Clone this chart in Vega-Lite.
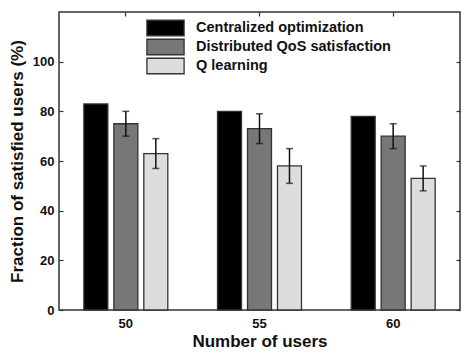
{
  "$schema": "https://vega.github.io/schema/vega-lite/v6.json",
  "width": 401,
  "height": 298,
  "autosize": {"type": "none"},
  "padding": {"left": 59, "top": 12, "right": 14, "bottom": 45},
  "background": "white",
  "config": {
    "view": {"stroke": "#333333", "strokeWidth": 1.5},
    "font": "Liberation Sans",
    "axis": {
      "labelFont": "Liberation Sans", "labelFontWeight": "bold", "labelFontSize": 13, "labelColor": "#111111",
      "titleFont": "Liberation Sans", "titleFontWeight": "bold", "titleFontSize": 17, "titleColor": "#111111",
      "domain": false, "grid": false, "tickColor": "#333333", "tickWidth": 1.2
    },
    "legend": {
      "labelFont": "Liberation Sans", "labelFontWeight": "bold", "labelFontSize": 14.5, "labelColor": "#111111", "labelLimit": 400
    }
  },
  "data": {
    "values": [
      {"users": "50", "method": "Centralized optimization", "value": 83, "lo": null, "hi": null},
      {"users": "50", "method": "Distributed QoS satisfaction", "value": 75, "lo": 70, "hi": 80},
      {"users": "50", "method": "Q learning", "value": 63, "lo": 57, "hi": 69},
      {"users": "55", "method": "Centralized optimization", "value": 80, "lo": null, "hi": null},
      {"users": "55", "method": "Distributed QoS satisfaction", "value": 73, "lo": 67, "hi": 79},
      {"users": "55", "method": "Q learning", "value": 58, "lo": 51, "hi": 65},
      {"users": "60", "method": "Centralized optimization", "value": 78, "lo": null, "hi": null},
      {"users": "60", "method": "Distributed QoS satisfaction", "value": 70, "lo": 65, "hi": 75},
      {"users": "60", "method": "Q learning", "value": 53, "lo": 48, "hi": 58}
    ]
  },
  "encoding": {
    "xOffset": {"field": "method", "type": "nominal", "scale": {"paddingInner": 0.2, "paddingOuter": 0.1}}
  },
  "layer": [
    {
      "mark": {"type": "bar", "stroke": "#333333", "strokeWidth": 1.3},
      "encoding": {
        "x": {"field": "users", "type": "nominal", "scale": {"paddingInner": 0.327, "paddingOuter": 0.1635},
              "axis": {"title": "Number of users", "labelAngle": 0, "ticks": false, "labelPadding": 7, "titlePadding": 3}},
        "y": {"field": "value", "type": "quantitative", "scale": {"domain": [0, 120], "nice": false},
              "axis": {"title": "Fraction of satisfied users (%)", "values": [0, 20, 40, 60, 80, 100], "tickSize": -4, "labelPadding": 9, "titlePadding": 6}},
        "color": {"field": "method", "type": "nominal",
                  "scale": {"range": ["#000000", "#777777", "#dddddd"]},
                  "legend": {"title": null, "orient": "none", "legendX": 98, "legendY": 7.5, "padding": 0,
                             "symbolType": "M-2.4,-1H2.4V1H-2.4Z", "symbolSize": 240, "symbolStrokeColor": "#333333", "symbolStrokeWidth": 1.3,
                             "rowPadding": -2, "labelOffset": 22}}
      }
    },
    {
      "transform": [{"filter": "datum.lo != null"}],
      "mark": {"type": "rule", "color": "#111111", "strokeWidth": 1.5},
      "encoding": {
        "x": {"field": "users", "type": "nominal", "axis": {"orient": "top", "title": null, "labels": false, "ticks": true, "tickSize": -4, "zindex": 1}},
        "y": {"field": "lo", "type": "quantitative", "axis": {"orient": "right", "title": null, "labels": false, "ticks": true, "values": [0, 20, 40, 60, 80, 100], "tickSize": -4, "zindex": 1}},
        "y2": {"field": "hi"}}
    },
    {
      "transform": [{"filter": "datum.lo != null"}],
      "mark": {"type": "tick", "color": "#111111", "thickness": 1.5, "size": 7},
      "encoding": {
        "x": {"field": "users", "type": "nominal", "axis": null},
        "y": {"field": "lo", "type": "quantitative", "axis": null}}
    },
    {
      "transform": [{"filter": "datum.lo != null"}],
      "mark": {"type": "tick", "color": "#111111", "thickness": 1.5, "size": 7},
      "encoding": {
        "x": {"field": "users", "type": "nominal", "axis": null},
        "y": {"field": "hi", "type": "quantitative", "axis": null}}
    }
  ],
  "resolve": {"axis": {"x": "independent", "y": "independent"}}
}
